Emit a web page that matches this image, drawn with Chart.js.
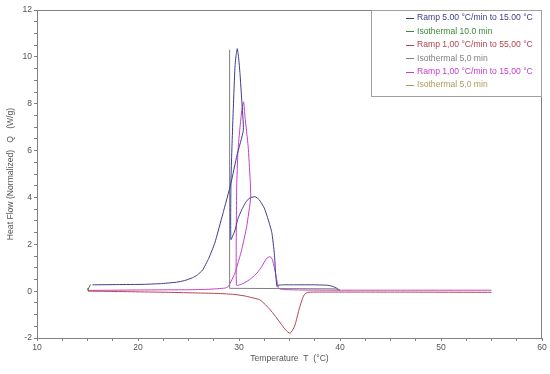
<!DOCTYPE html>
<html lang="en">
<head>
    <meta charset="UTF-8">
    <title>DSC Heat Flow</title>
    <style>
        body {
            margin: 0;
            background: #fff;
        }
        #wrap {
            width: 550px;
            height: 374px;
        }
    </style>
</head>
<body>
    <div id="wrap"><canvas id="myChart" width="550" height="374"></canvas></div>

    <script src="https://cdn.jsdelivr.net/npm/chart.js"></script>
    <script>
        // Segment labels (legend)
        const segLabels = [
            'Ramp 5.00 °C/min to 15.00 °C',
            'Isothermal 10.0 min',
            'Ramp 1,00 °C/min to 55,00 °C',
            'Isothermal 5,0 min',
            'Ramp 1,00 °C/min to 15,00 °C',
            'Isothermal 5,0 min'
        ];
        const segColors = ['#3c3c8c', '#3a8a3a', '#b5424e', '#808080', '#c040c8', '#b09a5a'];

        // Ramp 5 °C/min to 15 °C (cooling from 40)
        const coolT = [40.0, 39.7, 39.3, 38.8, 37.5, 35.5, 34.3, 33.9, 33.75, 33.62, 33.5, 33.25, 32.9, 32.5, 32.0, 31.6, 31.2, 30.9, 30.6, 30.27, 29.9, 29.6, 29.2,
            29.2, 29.27, 29.44, 29.6, 29.72, 29.83, 29.95, 30.1, 30.27, 30.43,
            29.8, 29.2, 28.4, 27.6, 27.0, 26.4, 25.9, 25.4, 24.6, 23.8, 22.2, 20.5, 18.0, 15.5];
        const coolQ = [0.03, 0.12, 0.2, 0.25, 0.27, 0.27, 0.27, 0.25, 0.2, 0.8, 1.6, 2.5, 3.04, 3.55, 3.9, 4.03, 4.0, 3.92, 3.75, 3.47, 3.1, 2.6, 2.2,
            4.6, 5.74, 7.86, 9.56, 10.1, 10.35, 10.0, 9.28, 8.15, 6.87,
            5.8, 4.6, 3.3, 2.05, 1.4, 0.9, 0.7, 0.57, 0.45, 0.38, 0.32, 0.29, 0.28, 0.27];

        // Isothermal 10 min at 15 °C
        const iso1T = [15.3, 15.1, 15.05];
        const iso1Q = [0.28, 0.12, 0.04];

        // Ramp 1 °C/min to 55 °C (heating, melting endotherm)
        const heatT = [15.05, 17, 20, 23, 26, 28, 29.5, 30.5, 31.2, 32.1, 33.1, 34.1, 34.6, 35.05, 35.5, 36.0, 36.3, 36.5, 36.8, 38, 45, 55];
        const heatQ = [0.0, -0.01, -0.03, -0.05, -0.08, -0.1, -0.14, -0.2, -0.27, -0.38, -0.8, -1.36, -1.65, -1.8, -1.5, -0.7, -0.3, -0.13, -0.05, -0.04, -0.04, -0.05];

        // Isothermal 5 min (grey trace)
        const iso2T = [39.83, 39.5, 29.07, 29.07];
        const iso2Q = [0.06, 0.1, 0.12, 10.3];

        // Ramp 1 °C/min to 15 °C (cooling from 55)
        const cool2T = [55.0, 50, 45, 40, 36, 34.3, 34.0, 33.9, 33.73, 33.5, 33.3, 33.07, 32.7, 32.25, 31.8, 31.26, 30.8, 30.27, 29.77,
            29.72, 29.77, 29.9, 30.1, 30.27, 30.45, 30.6, 30.9, 31.1, 31.16,
            30.76, 30.27, 29.6, 28.94, 28.6, 27, 25, 20, 15.1];
        const cool2Q = [0.04, 0.04, 0.04, 0.04, 0.05, 0.07, 0.1, 0.15, 0.49, 1.0, 1.35, 1.48, 1.38, 1.05, 0.78, 0.56, 0.42, 0.3, 0.25,
            1.5, 4.45, 6.0, 7.0, 7.7, 8.08, 7.42, 6.2, 4.8, 4.0,
            2.76, 1.77, 0.77, 0.2, 0.13, 0.08, 0.06, 0.05, 0.03];

        // Isothermal 5 min at 15 °C
        const iso3T = [15.1, 15.08];
        const iso3Q = [0.03, 0.0];

        const xTicks = [10, 20, 30, 40, 50, 60];
        const yTicks = [-2, 0, 2, 4, 6, 8, 10, 12];

        const allT = [coolT, iso1T, heatT, iso2T, cool2T, iso3T];
        const allQ = [coolQ, iso1Q, heatQ, iso2Q, cool2Q, iso3Q];
        const smooth = [0.15, 0, 0.2, 0, 0.15, 0];

        const FONT = '"Liberation Sans", Arial, sans-serif';

        function pts(ts, qs) {
            return ts.map((t, i) => ({ x: t, y: qs[i] }));
        }

        // frame around the plot + legend box
        const frame = {
            id: 'frame',
            afterDraw(chart) {
                const { ctx, chartArea: a } = chart;
                ctx.save();
                ctx.strokeStyle = '#808080';
                ctx.lineWidth = 1;
                ctx.strokeRect(Math.round(a.left) + 0.5, Math.round(a.top) + 0.5,
                    Math.round(a.right - a.left) - 1, Math.round(a.bottom - a.top));

                // legend
                const bx = 371, by = Math.round(a.top), bw = a.right - 371, bh = 86;
                ctx.strokeStyle = '#a0a0a0';
                ctx.strokeRect(bx + 0.5, by + 0.5, bw - 1, bh);
                ctx.font = '8.6px ' + FONT;
                ctx.textBaseline = 'middle';
                chart.data.datasets.forEach((ds, i) => {
                    const y = 18 + i * 13.4;
                    ctx.strokeStyle = ds.borderColor;
                    ctx.beginPath();
                    ctx.moveTo(406, Math.round(y) + 0.5);
                    ctx.lineTo(414, Math.round(y) + 0.5);
                    ctx.stroke();
                    ctx.fillStyle = ds.borderColor;
                    ctx.fillText(ds.label, 417, y);
                });
                ctx.restore();
            }
        };

        const ctx = document.getElementById('myChart').getContext('2d');
        const myChart = new Chart(ctx, {
            type: 'scatter',
            data: {
                datasets: segLabels.map((lab, i) => ({
                    label: lab,
                    data: pts(allT[i], allQ[i]),
                    borderColor: segColors[i],
                    backgroundColor: segColors[i],
                    showLine: true,
                    borderWidth: 1,
                    pointRadius: 0,
                    tension: smooth[i],
                    fill: false
                }))
            },
            options: {
                responsive: false,
                animation: false,
                layout: { padding: { left: 0, right: 8, top: 10, bottom: 0 } },
                plugins: {
                    legend: { display: false },
                    tooltip: { enabled: false }
                },
                scales: {
                    x: {
                        type: 'linear',
                        min: 10,
                        max: 60,
                        border: { color: '#808080' },
                        grid: { drawOnChartArea: false, tickLength: 3, color: '#808080' },
                        ticks: {
                            stepSize: 2.5,
                            autoSkip: false,
                            maxRotation: 0,
                            padding: 1,
                            color: '#555',
                            font: { family: FONT, size: 8.6 },
                            callback: v => xTicks.includes(v) ? v : ''
                        },
                        title: {
                            display: true,
                            text: 'Temperature  T  (°C)',
                            color: '#555',
                            font: { family: FONT, size: 8.6 },
                            padding: { top: 0, bottom: 10 }
                        },
                        afterFit: s => { s.height = 36; }
                    },
                    y: {
                        type: 'linear',
                        min: -2,
                        max: 12,
                        border: { color: '#808080' },
                        grid: { drawOnChartArea: false, tickLength: 3, color: '#808080' },
                        ticks: {
                            stepSize: 0.5,
                            autoSkip: false,
                            padding: 2,
                            color: '#555',
                            font: { family: FONT, size: 8.6 },
                            callback: v => yTicks.includes(v) ? v : ''
                        },
                        title: {
                            display: true,
                            text: 'Heat Flow (Normalized)   Q   (W/g)',
                            color: '#555',
                            font: { family: FONT, size: 8.6 },
                            padding: { top: 5, bottom: 0 }
                        },
                        afterFit: s => { s.width = 37; }
                    }
                }
            },
            plugins: [frame]
        });
    </script>
</body>
</html>
